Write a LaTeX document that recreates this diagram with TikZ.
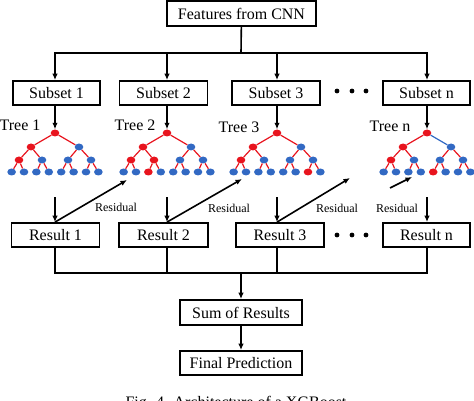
\documentclass[tikz,border=0pt]{standalone}
\usepackage{fontspec}
\setmainfont{Liberation Serif}
\usetikzlibrary{arrows.meta,shapes.geometric}
\definecolor{nodered}{RGB}{232,20,30}
\definecolor{nodeblue}{RGB}{50,105,195}

\newcommand{\xgbtree}[5]{%
  \node[leaf,fill=nodered] (#1r) at (#2,133) {};
  \node[leaf,fill=nodered] (#1a) at (#2-24,147) {};
  \node[leaf,fill=nodeblue] (#1b) at (#2+24,147) {};
  \node[leaf,fill=nodered] (#1aa) at (#2-36,160) {};
  \node[leaf,fill=#3] (#1ab) at (#2-13,160) {};
  \node[leaf,fill=nodeblue] (#1ba) at (#2+13,160) {};
  \node[leaf,fill=nodeblue] (#1bb) at (#2+36,160) {};
  \foreach \i in {1,...,8} {
    \ifnum\i=#4 \def\leafcol{nodered}\else\def\leafcol{nodeblue}\fi
    \node[leaf,fill=\leafcol] (#1l\i) at ({#2+(\i-4.5)*12.4},172) {};
  }
  \draw[branch] (#1r) -- (#1a) (#1a) -- (#1aa) (#1a) -- (#1ab) (#1b) -- (#1ba) (#1b) -- (#1bb);
  \draw[branch,draw=#5] (#1r) -- (#1b);
  \draw[branch] (#1aa) -- (#1l1) (#1aa) -- (#1l2) (#1ab) -- (#1l3) (#1ab) -- (#1l4)
    (#1ba) -- (#1l5) (#1ba) -- (#1l6) (#1bb) -- (#1l7) (#1bb) -- (#1l8);
}

\begin{document}
\begin{tikzpicture}[x=1pt, y=-1pt,
  box/.style={draw, line width=1.8pt, minimum height=24pt, inner sep=0pt, font=\fontsize{16}{18}\selectfont},
  arr/.style={line width=1.6pt, -{Latex[length=6.5pt,width=5.5pt]}},
  link/.style={line width=1.6pt},
  leaf/.style={ellipse, minimum width=8.6pt, minimum height=7pt, inner sep=0pt},
  branch/.style={line width=1.2pt, draw=nodered},
  lbl/.style={font=\fontsize{16}{18}\selectfont},
  res/.style={font=\fontsize{12}{14}\selectfont},
  dot/.style={circle, fill, inner sep=0pt, minimum size=4.8pt}]
\useasboundingbox (0,0) rectangle (474,401);

\node[box, minimum width=149pt, minimum height=25pt] (feat) at (241.5,13.5) {Features from CNN};
\node[box, minimum width=87pt] (s1) at (56.5,93) {Subset 1};
\node[box, minimum width=88pt] (s2) at (163.5,93) {Subset 2};
\node[box, minimum width=88pt] (s3) at (276,93) {Subset 3};
\node[box, minimum width=87pt] (sn) at (426.5,93) {Subset n};

\node[lbl] (tl1) at (20,125) {Tree 1};
\node[lbl] (tl2) at (135,125) {Tree 2};
\node[lbl] (tl3) at (239,127) {Tree 3};
\node[lbl] (tln) at (390,126) {Tree n};

\xgbtree{t1}{55}{nodeblue}{0}{nodered}
\xgbtree{t2}{167}{nodered}{3}{nodered}
\xgbtree{t3}{277}{nodeblue}{7}{nodered}
\xgbtree{tn}{427}{nodeblue}{5}{nodeblue}

\node[box, minimum width=88pt] (r1) at (55.5,235) {Result 1};
\node[box, minimum width=89pt] (r2) at (163.5,235) {Result 2};
\node[box, minimum width=88pt] (r3) at (280,235) {Result 3};
\node[box, minimum width=87pt] (rn) at (426.5,235) {Result n};

\node[box, minimum width=122pt, minimum height=25pt] (sum) at (241,312.5) {Sum of Results};
\node[box, minimum width=122pt] (final) at (241,363) {Final Prediction};

\foreach \x in {337,352,366} {
  \node[dot] (da\x) at (\x,91) {};
  \node[dot] (db\x) at (\x,235) {};
}

\coordinate (hub) at (241,53);
\draw[link] (feat) -- (hub);
\draw[arr] (hub) -| (t1r |- s1.north);
\draw[arr] (hub) -| (t2r |- s2.north);
\draw[arr] (hub) -| (t3r |- s3.north);
\draw[arr] (hub) -| (tnr |- sn.north);

\draw[arr] (t1r |- s1.south) -- (t1r);
\draw[arr] (t2r |- s2.south) -- (t2r);
\draw[arr] (t3r |- s3.south) -- (t3r);
\draw[arr] (tnr |- sn.south) -- (tnr);

\coordinate (v1) at (55,197);
\coordinate (v2) at (167,197);
\coordinate (v3) at (277,197);
\coordinate (vn) at (427,197);
\draw[arr] (v1) -- (v1 |- r1.north);
\draw[arr] (v2) -- (v2 |- r2.north);
\draw[arr] (v3) -- (v3 |- r3.north);
\draw[arr] (vn) -- (vn |- rn.north);

\coordinate (e1) at (127,180);
\coordinate (e2) at (242,179);
\coordinate (e3) at (350,178);
\coordinate (en0) at (390,188);
\coordinate (en1) at (412,177);
\draw[arr] (v1 |- r1.north) -- (e1);
\draw[arr] (v2 |- r2.north) -- (e2);
\draw[arr] (v3 |- r3.north) -- (e3);
\draw[arr] (en0) -- (en1);

\node[res] (rl1) at (116,207) {Residual};
\node[res] (rl2) at (229,208) {Residual};
\node[res] (rl3) at (337,208) {Residual};
\node[res] (rln) at (397,208) {Residual};

\coordinate (join) at (241,273);
\draw[link] (v1 |- r1.south) |- (join) -| (vn |- rn.south);
\draw[link] (v2 |- r2.south) -- (v2 |- join);
\draw[link] (v3 |- r3.south) -- (v3 |- join);
\draw[arr] (join) -- (sum);
\draw[arr] (sum) -- (final);

\node[lbl, anchor=base] (cap) at (236,407) {Fig. 4. Architecture of a XGBoost};
\end{tikzpicture}
\end{document}
